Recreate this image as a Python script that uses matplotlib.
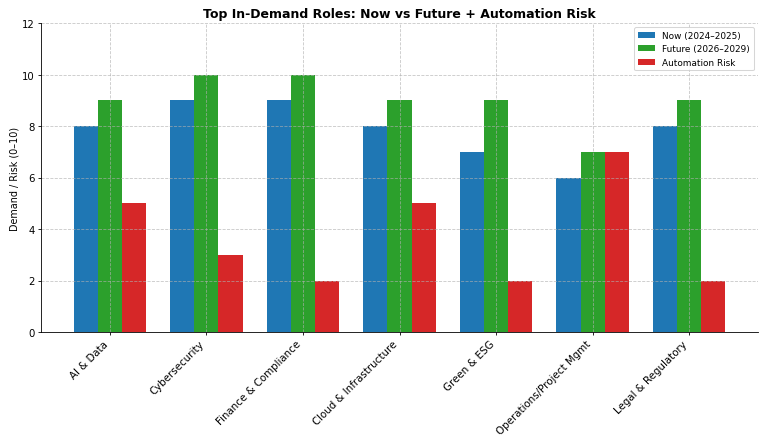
import numpy as np
import matplotlib
matplotlib.use('Agg')
import matplotlib.pyplot as plt

roles = ['AI & Data', 'Cybersecurity', 'Finance & Compliance', 'Cloud & Infrastructure',
         'Green & ESG', 'Operations/Project Mgmt', 'Legal & Regulatory']
now = [8, 9, 9, 8, 7, 6, 8]
future = [9, 10, 10, 9, 9, 7, 9]
risk = [5, 3, 2, 5, 2, 7, 2]

x = np.arange(len(roles))
w = 0.25

fig, ax = plt.subplots(figsize=(10.24, 5.973), dpi=75)
ax.bar(x - w, now, w, label='Now (2024–2025)', color='#1f77b4')
ax.bar(x, future, w, label='Future (2026–2029)', color='#2ca02c')
ax.bar(x + w, risk, w, label='Automation Risk', color='#d62728')

ax.set_xticks(x)
ax.set_xticklabels(roles, rotation=45, ha='right', fontsize=9.9)
ax.tick_params(axis='y', labelsize=9.7)
ax.tick_params(length=2.5)
ax.set_ylabel('Demand / Risk (0–10)', fontsize=9.3, labelpad=2.5)
ax.set_ylim(0, 12)
ax.set_title('Top In-Demand Roles: Now vs Future + Automation Risk', fontweight='bold', fontsize=12)
ax.legend(fontsize=8.5)
ax.grid(True, linestyle='--', alpha=0.7)
for s in ['top', 'right']:
    ax.spines[s].set_visible(False)

fig.subplots_adjust(left=0.0534, right=0.987, top=0.9464, bottom=0.2567)
plt.savefig('out.png', dpi=75)
